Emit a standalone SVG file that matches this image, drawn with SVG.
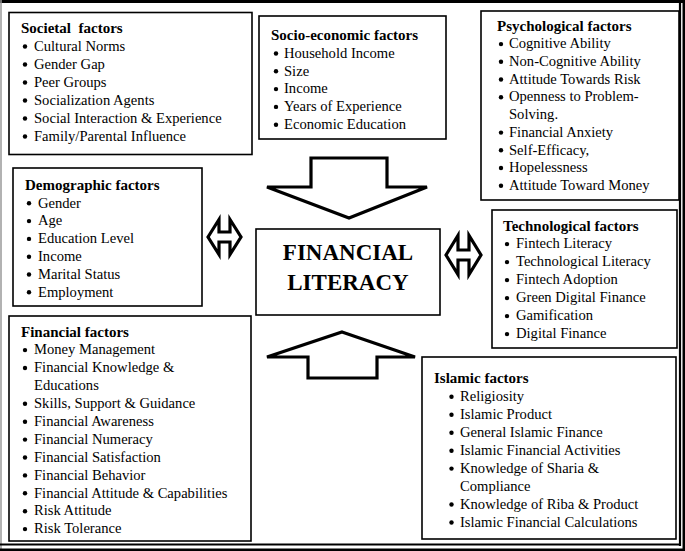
<svg xmlns="http://www.w3.org/2000/svg" width="685" height="551" viewBox="0 0 685 551">
<style>
.box{fill:#fff;stroke:#000;stroke-width:1.6}
.t{font-family:"Liberation Serif","Times New Roman",serif;font-size:15px;font-weight:bold;fill:#000}
.i{font-family:"Liberation Serif","Times New Roman",serif;font-size:14.6px;fill:#000}
.b{fill:#000}
.arr{fill:#fff;stroke:#000;stroke-width:3.2;stroke-linejoin:miter}
.frame{stroke:#000;fill:none}
.center{font-family:"Liberation Serif","Times New Roman",serif;font-size:23px;font-weight:bold;fill:#000;text-anchor:middle}
</style>
<rect width="685" height="551" fill="#fff"/>
<g id="frame">
<line class="frame" x1="0" y1="1.5" x2="685" y2="1.5" stroke-width="3"/>
<line x1="1" y1="0" x2="1" y2="551" stroke="#999" stroke-width="1.5"/>
<line class="frame" x1="680" y1="0" x2="680" y2="546" stroke-width="2.2"/>
<line class="frame" x1="683.8" y1="0" x2="683.8" y2="551" stroke-width="2.6"/>
<line class="frame" x1="0" y1="544.5" x2="681" y2="544.5" stroke-width="2.2"/>
<line class="frame" x1="0" y1="549.8" x2="685" y2="549.8" stroke-width="2.6"/>
</g>

<g id="societal">
<rect class="box" x="9" y="12.5" width="243" height="142"/>
<text class="t" x="21" y="33.3" xml:space="preserve">Societal  factors</text>
<g class="b"><circle cx="25" cy="46.5" r="2.2"/><circle cx="25" cy="64.5" r="2.2"/><circle cx="25" cy="82.5" r="2.2"/><circle cx="25" cy="100.5" r="2.2"/><circle cx="25" cy="118.5" r="2.2"/><circle cx="25" cy="136.5" r="2.2"/></g>
<text class="i" x="34" y="50.7">Cultural Norms</text>
<text class="i" x="34" y="68.7">Gender Gap</text>
<text class="i" x="34" y="86.7">Peer Groups</text>
<text class="i" x="34" y="104.7">Socialization Agents</text>
<text class="i" x="34" y="122.7">Social Interaction &amp; Experience</text>
<text class="i" x="34" y="140.7">Family/Parental Influence</text>
</g>

<g id="socioeconomic">
<rect class="box" x="259" y="16" width="187" height="123"/>
<text class="t" x="271" y="40">Socio-economic factors</text>
<g class="b"><circle cx="276" cy="53.5" r="2.2"/><circle cx="276" cy="71.3" r="2.2"/><circle cx="276" cy="89.1" r="2.2"/><circle cx="276" cy="106.9" r="2.2"/><circle cx="276" cy="124.7" r="2.2"/></g>
<text class="i" x="284" y="57.7">Household Income</text>
<text class="i" x="284" y="75.5">Size</text>
<text class="i" x="284" y="93.3">Income</text>
<text class="i" x="284" y="111.1">Years of Experience</text>
<text class="i" x="284" y="128.9">Economic Education</text>
</g>

<g id="psychological">
<rect class="box" x="481" y="11" width="198" height="189"/>
<text class="t" x="497" y="31">Psychological factors</text>
<g class="b"><circle cx="501" cy="44.1" r="2.2"/><circle cx="501" cy="61.8" r="2.2"/><circle cx="501" cy="79.5" r="2.2"/><circle cx="501" cy="97.2" r="2.2"/><circle cx="501" cy="132.6" r="2.2"/><circle cx="501" cy="150.3" r="2.2"/><circle cx="501" cy="168" r="2.2"/><circle cx="501" cy="185.7" r="2.2"/></g>
<text class="i" x="509" y="48.3">Cognitive Ability</text>
<text class="i" x="509" y="66">Non-Cognitive Ability</text>
<text class="i" x="509" y="83.7">Attitude Towards Risk</text>
<text class="i" x="509" y="101.4">Openness to Problem-</text>
<text class="i" x="509" y="119.1">Solving.</text>
<text class="i" x="509" y="136.8">Financial Anxiety</text>
<text class="i" x="509" y="154.5">Self-Efficacy,</text>
<text class="i" x="509" y="172.2">Hopelessness</text>
<text class="i" x="509" y="189.9">Attitude Toward Money</text>
</g>

<g id="demographic">
<rect class="box" x="13" y="168" width="189" height="138"/>
<text class="t" x="25" y="190">Demographic factors</text>
<g class="b"><circle cx="29" cy="203.3" r="2.2"/><circle cx="29" cy="221.1" r="2.2"/><circle cx="29" cy="238.9" r="2.2"/><circle cx="29" cy="256.7" r="2.2"/><circle cx="29" cy="274.5" r="2.2"/><circle cx="29" cy="292.3" r="2.2"/></g>
<text class="i" x="38" y="207.5">Gender</text>
<text class="i" x="38" y="225.3">Age</text>
<text class="i" x="38" y="243.1">Education Level</text>
<text class="i" x="38" y="260.9">Income</text>
<text class="i" x="38" y="278.7">Marital Status</text>
<text class="i" x="38" y="296.5">Employment</text>
</g>

<g id="financial-literacy">
<rect class="box" x="256" y="229" width="184" height="86"/>
<text class="center" x="348" y="260">FINANCIAL</text>
<text class="center" x="348" y="289.5">LITERACY</text>
</g>

<g id="technological">
<rect class="box" x="492" y="210" width="185" height="138"/>
<text class="t" x="503" y="231">Technological factors</text>
<g class="b"><circle cx="507" cy="244.1" r="2.2"/><circle cx="507" cy="262.1" r="2.2"/><circle cx="507" cy="280.1" r="2.2"/><circle cx="507" cy="298.1" r="2.2"/><circle cx="507" cy="316.1" r="2.2"/><circle cx="507" cy="334.1" r="2.2"/></g>
<text class="i" x="516" y="248.3">Fintech Literacy</text>
<text class="i" x="516" y="266.3">Technological Literacy</text>
<text class="i" x="516" y="284.3">Fintech Adoption</text>
<text class="i" x="516" y="302.3">Green Digital Finance</text>
<text class="i" x="516" y="320.3">Gamification</text>
<text class="i" x="516" y="338.3">Digital Finance</text>
</g>

<g id="financial">
<rect class="box" x="9" y="316" width="242" height="225"/>
<text class="t" x="21" y="336.7">Financial factors</text>
<g class="b"><circle cx="25" cy="350.1" r="2.2"/><circle cx="25" cy="368" r="2.2"/><circle cx="25" cy="403.8" r="2.2"/><circle cx="25" cy="421.7" r="2.2"/><circle cx="25" cy="439.6" r="2.2"/><circle cx="25" cy="457.5" r="2.2"/><circle cx="25" cy="475.4" r="2.2"/><circle cx="25" cy="493.3" r="2.2"/><circle cx="25" cy="511.2" r="2.2"/><circle cx="25" cy="529.1" r="2.2"/></g>
<text class="i" x="34" y="354.3">Money Management</text>
<text class="i" x="34" y="372.2">Financial Knowledge &amp;</text>
<text class="i" x="34" y="390.1">Educations</text>
<text class="i" x="34" y="408">Skills, Support &amp; Guidance</text>
<text class="i" x="34" y="425.9">Financial Awareness</text>
<text class="i" x="34" y="443.8">Financial Numeracy</text>
<text class="i" x="34" y="461.7">Financial Satisfaction</text>
<text class="i" x="34" y="479.6">Financial Behavior</text>
<text class="i" x="34" y="497.5">Financial Attitude &amp; Capabilities</text>
<text class="i" x="34" y="515.4">Risk Attitude</text>
<text class="i" x="34" y="533.3">Risk Tolerance</text>
</g>

<g id="islamic">
<rect class="box" x="422" y="357" width="254" height="182"/>
<text class="t" x="434" y="383.3">Islamic factors</text>
<g class="b"><circle cx="451.5" cy="396.8" r="2.2"/><circle cx="451.5" cy="414.8" r="2.2"/><circle cx="451.5" cy="432.7" r="2.2"/><circle cx="451.5" cy="450.7" r="2.2"/><circle cx="451.5" cy="468.6" r="2.2"/><circle cx="451.5" cy="504.5" r="2.2"/><circle cx="451.5" cy="522.5" r="2.2"/></g>
<text class="i" x="460" y="401">Religiosity</text>
<text class="i" x="460" y="419">Islamic Product</text>
<text class="i" x="460" y="436.9">General Islamic Finance</text>
<text class="i" x="460" y="454.9">Islamic Financial Activities</text>
<text class="i" x="460" y="472.8">Knowledge of Sharia &amp;</text>
<text class="i" x="460" y="490.8">Compliance</text>
<text class="i" x="460" y="508.7">Knowledge of Riba &amp; Product</text>
<text class="i" x="460" y="526.7">Islamic Financial Calculations</text>
</g>

<g id="connectors">
<polygon class="arr" points="311,158 387,158 387,187 427,187 349,218 267,187 311,187"/>
<polygon class="arr" points="342,332 415,357 377,357 377,378 308,378 308,357 267,357"/>
<polygon class="arr" points="208,237 219,219.5 219,232 230,232 230,219.5 241,237 230,254.5 230,242 219,242 219,254.5"/>
<polygon class="arr" points="446,255 458,235.5 458,250 469,250 469,235.5 481,255 469,274.5 469,260 458,260 458,274.5"/>
</g>
</svg>
